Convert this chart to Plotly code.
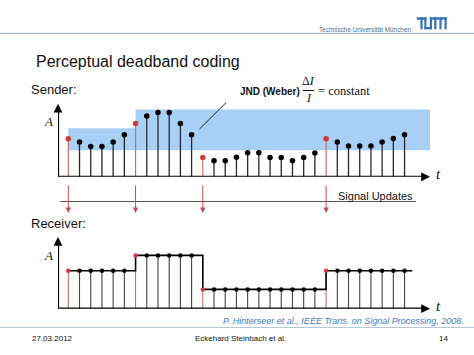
import plotly.graph_objects as go

W, H = 474, 355

# ---------------- data ----------------
sample_idx = list(range(31))
sender_values = [3.80, 3.47, 3.03, 3.03, 3.47, 4.20, 5.33, 6.07, 6.43, 6.43, 5.33, 4.20,
                 1.93, 1.60, 1.60, 1.95, 2.40, 2.40, 1.93, 1.93, 1.60, 1.93, 2.37,
                 3.80, 3.47, 3.07, 3.07, 3.07, 3.47, 3.83, 4.20]
update_idx = [0, 6, 12, 23]          # samples that trigger a transmission
band_start = [0, 6]
band_end = [6, 32.3]
band_low = [2.65, 2.65]
band_high = [4.85, 6.72]

title_text = "Perceptual deadband coding"
sender_label = "Sender:"
receiver_label = "Receiver:"
updates_label = "Signal Updates"
jnd_label = "JND (Weber)"
citation = "P. Hinterseer et al., IEEE Trans. on Signal Processing, 2008."
footer_date = "27.03.2012"
footer_author = "Eckehard Steinbach et al."
footer_page = "14"
header_text = "Technische Universität München"

# receiver holds the last transmitted value
receiver_values = []
cur = None
for i, v in zip(sample_idx, sender_values):
    if i in update_idx:
        cur = v
    receiver_values.append(cur)

# ---------------- styling helpers ----------------
SANS = "Liberation Sans, Arial, sans-serif"
SERIF = "Liberation Serif, Times New Roman, serif"
BLACK = "#111111"
RED_DOT = "#d0393b"
RED_STEM = "#c8735f"
RED_ARROW = "#c0504d"
BAND = "#a8cff5"
TUM_BLUE = "#3572b6"

def px(x):
    return x / W

def py(y):
    return 1 - y / H

X_LO, X_HI = -0.92, 32.27
S_TOP, R_TOP = 7.3, 7.17
XDOM = [px(58), px(430)]

fig = go.Figure()

def stems(idx_list, values, xa, ya, color, width):
    xs, ys = [], []
    for i in idx_list:
        xs += [i, i, None]
        ys += [0, values[i], None]
    fig.add_trace(go.Scatter(x=xs, y=ys, mode="lines", xaxis=xa, yaxis=ya,
                             line=dict(color=color, width=width),
                             hoverinfo="skip", showlegend=False))

def dots(idx_list, values, xa, ya, color, size):
    fig.add_trace(go.Scatter(x=idx_list, y=[values[i] for i in idx_list], mode="markers",
                             xaxis=xa, yaxis=ya, marker=dict(color=color, size=size),
                             hoverinfo="skip", showlegend=False))

normal_idx = [i for i in sample_idx if i not in update_idx]

# ---------- sender ----------
for x0, x1, lo, hi in zip(band_start, band_end, band_low, band_high):
    fig.add_shape(type="rect", xref="x", yref="y", x0=x0, x1=x1, y0=lo, y1=hi,
                  fillcolor=BAND, line=dict(width=0), layer="below")

stems(normal_idx, sender_values, "x", "y", "#2a2a2a", 1.3)
stems(update_idx, sender_values, "x", "y", RED_STEM, 1.2)
dots(normal_idx, sender_values, "x", "y", "#000000", 5.5)
dots(update_idx, sender_values, "x", "y", RED_DOT, 5.5)

# ---------- receiver ----------
stems(normal_idx, receiver_values, "x2", "y2", "#444444", 1.1)
stems(update_idx, receiver_values, "x2", "y2", RED_STEM, 1.1)
step_x = update_idx + [sample_idx[-1] + 0.7]
step_y = [sender_values[i] for i in update_idx] + [sender_values[update_idx[-1]]]
fig.add_trace(go.Scatter(x=step_x, y=step_y, mode="lines", line_shape="hv",
                         xaxis="x2", yaxis="y2", line=dict(color="#000000", width=1.6),
                         hoverinfo="skip", showlegend=False))
dots(normal_idx, receiver_values, "x2", "y2", "#000000", 4.5)
dots(update_idx, receiver_values, "x2", "y2", RED_DOT, 4.5)

# ---------- axes lines with arrows ----------
annotations = []
for xa, ya, top in (("x", "y", S_TOP), ("x2", "y2", R_TOP)):
    fig.add_trace(go.Scatter(x=[X_LO, X_LO, None, X_LO, X_HI - 0.3],
                             y=[0, top - 0.3, None, 0, 0], mode="lines",
                             xaxis=xa, yaxis=ya, line=dict(color="#000000", width=2.2),
                             hoverinfo="skip", showlegend=False))
    annotations.append(dict(x=X_LO, y=top, xref=xa, yref=ya, ax=0, ay=10, text="",
                            showarrow=True, arrowhead=2, arrowsize=0.8, arrowwidth=2.2,
                            arrowcolor="#000000"))
    annotations.append(dict(x=X_HI, y=0, xref=xa, yref=ya, ax=-10, ay=0, text="",
                            showarrow=True, arrowhead=2, arrowsize=0.8, arrowwidth=2.2,
                            arrowcolor="#000000"))

# signal update arrows
for i in update_idx:
    annotations.append(dict(x=i, y=py(213), xref="x", yref="paper", ax=0, ay=-29,
                            text="", showarrow=True, arrowhead=2, arrowsize=1.1,
                            arrowwidth=1, arrowcolor=RED_ARROW))

def txt(text, x, y, size, font=SANS, color=BLACK, xanchor="left", yanchor="middle"):
    annotations.append(dict(text=text, x=px(x), y=py(y), xref="paper", yref="paper",
                            showarrow=False, xanchor=xanchor, yanchor=yanchor,
                            font=dict(family=font, size=size, color=color)))

txt(title_text, 34, 62, 16)
txt(sender_label, 29, 89, 13)
txt(receiver_label, 29, 223, 13)
txt("<i>A</i>", 48, 121.5, 13, font=SERIF, xanchor="center")
txt("<i>A</i>", 48, 255, 13, font=SERIF, xanchor="center")
txt("<i>t</i>", 438, 174, 15, font=SERIF, xanchor="center")
txt("<i>t</i>", 438, 306, 15, font=SERIF, xanchor="center")
txt(updates_label, 415, 196, 11, xanchor="right")
txt("<b>" + jnd_label + "</b>", 238, 91.5, 10)
txt("Δ<i>I</i>", 308.5, 81, 12, font=SERIF, xanchor="center")
txt("<i>I</i>", 308.5, 98, 12, font=SERIF, xanchor="center")
txt("= constant", 316, 91, 12.5, font=SERIF)
txt("<i>" + citation + "</i>", 466, 321, 9, color="#3a7bbd", xanchor="right")
txt(footer_date, 30, 338, 8)
txt(footer_author, 193, 338, 8)
txt(footer_page, 437, 338, 8)
txt(header_text, 413, 29, 6.4, color="#4a6f95", xanchor="right")

# ---------- decorative shapes ----------
shapes = []
def pline(x0, y0, x1, y1, color, width):
    shapes.append(dict(type="line", xref="paper", yref="paper", x0=px(x0), y0=py(y0),
                       x1=px(x1), y1=py(y1), line=dict(color=color, width=width)))

def prect(x0, y0, x1, y1, color):
    shapes.append(dict(type="rect", xref="paper", yref="paper", x0=px(x0), y0=py(y0),
                       x1=px(x1), y1=py(y1), fillcolor=color, line=dict(width=0)))

pline(0, 33.3, 474, 33.3, "#8aa6bf", 1)
pline(0, 327.5, 474, 327.5, "#b5c6d4", 1)
pline(60, 201.5, 416, 201.5, "#555555", 1)
pline(226, 102.7, 199.5, 129, "#222222", 1)
pline(303, 90.5, 314, 90.5, "#111111", 1)

# TUM logo
prect(416.7, 17.3, 426.5, 19.7, TUM_BLUE)
prect(420.4, 17.3, 422.6, 29.3, TUM_BLUE)
prect(424.3, 17.3, 426.5, 29.3, TUM_BLUE)
prect(424.3, 27.0, 432.0, 29.3, TUM_BLUE)
prect(429.8, 17.3, 432.0, 29.3, TUM_BLUE)
prect(429.8, 17.3, 446.7, 19.7, TUM_BLUE)
prect(434.2, 17.3, 436.4, 29.3, TUM_BLUE)
prect(439.4, 17.3, 441.6, 29.3, TUM_BLUE)
prect(444.5, 17.3, 446.7, 29.3, TUM_BLUE)

for s in shapes:
    fig.add_shape(**s)

hidden = dict(visible=False, showgrid=False, zeroline=False)
fig.update_layout(
    width=W, height=H, margin=dict(l=0, r=0, t=0, b=0),
    paper_bgcolor="white", plot_bgcolor="rgba(0,0,0,0)",
    xaxis=dict(domain=XDOM, range=[X_LO, X_HI], anchor="y", **hidden),
    yaxis=dict(domain=[py(176.8), py(103.8)], range=[0, S_TOP], anchor="x", **hidden),
    xaxis2=dict(domain=XDOM, range=[X_LO, X_HI], anchor="y2", **hidden),
    yaxis2=dict(domain=[py(308.7), py(237)], range=[0, R_TOP], anchor="x2", **hidden),
    annotations=annotations,
    showlegend=False,
)

fig.write_html("out.html", config=dict(displayModeBar=False),
               post_script="document.body.style.margin='0';document.body.style.overflow='hidden';")
